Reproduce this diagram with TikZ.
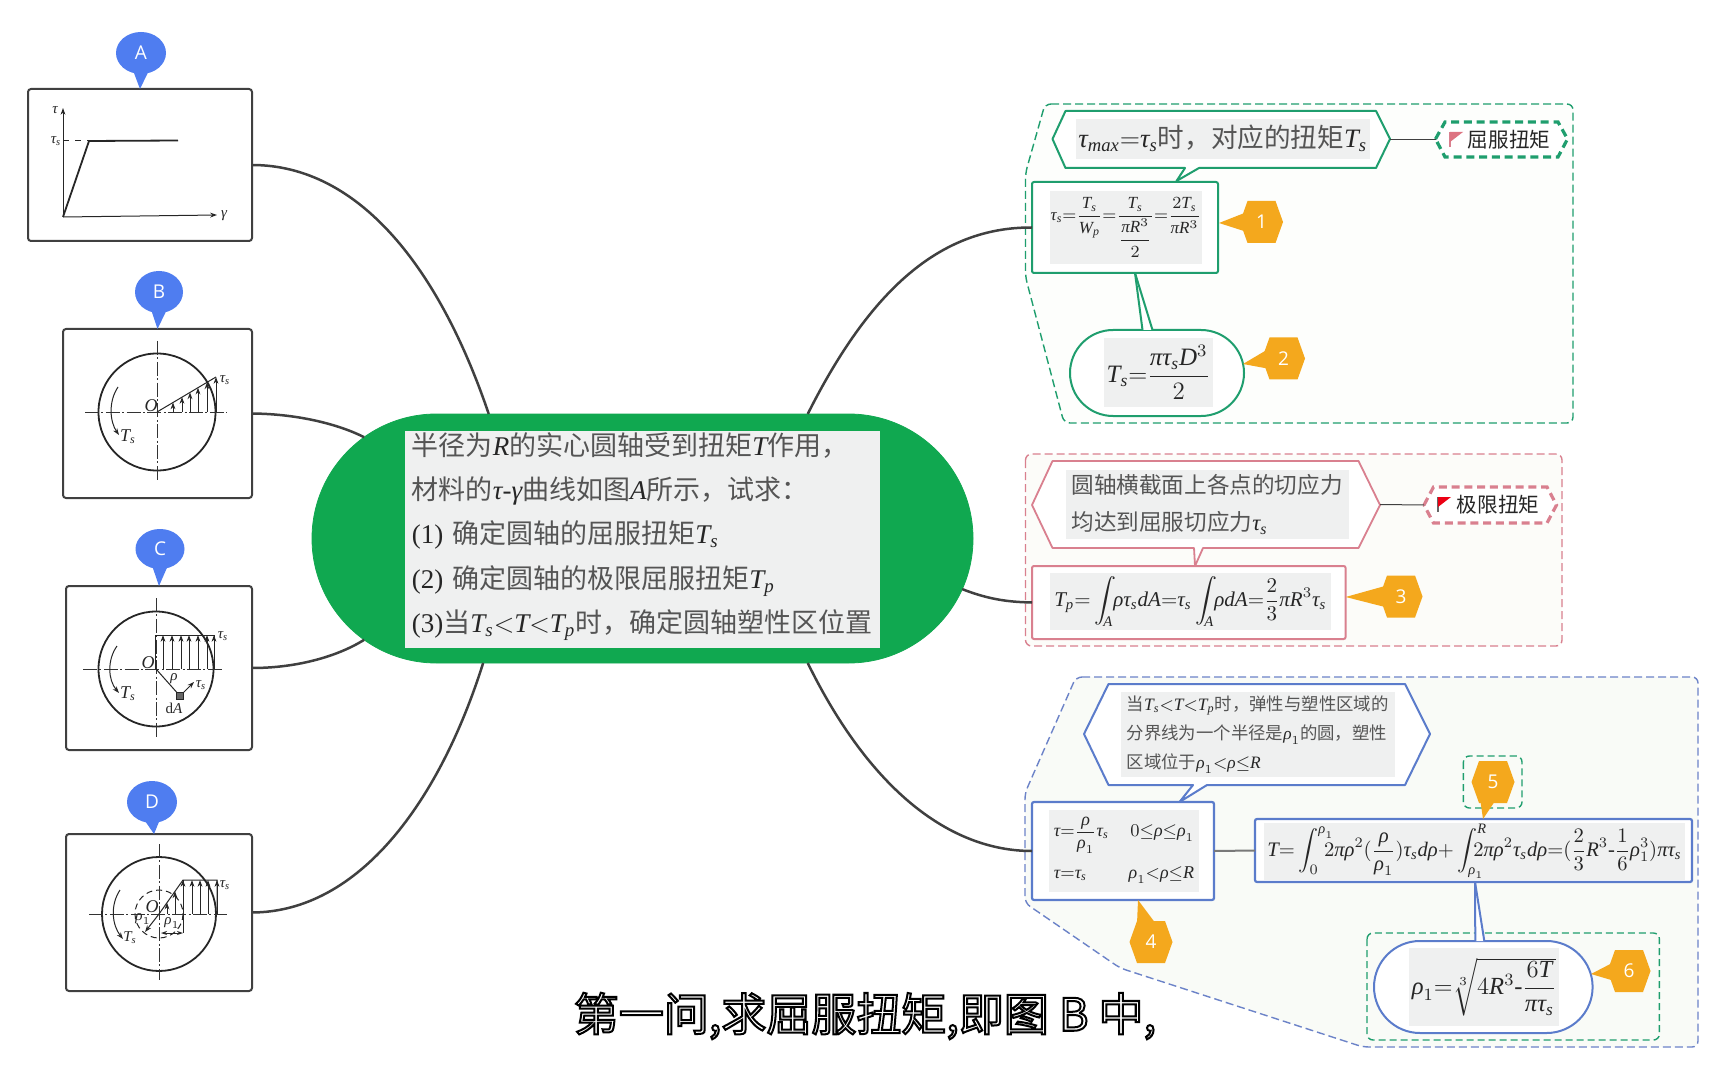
\documentclass[tikz,border=0pt]{standalone}
\usepackage{fix-cm}
\usepackage{amsmath}
\usepackage{fontspec}
\setmainfont{Liberation Serif}
\newfontfamily\cjk{Noto Sans CJK SC}
\newfontfamily\opensans{Open Sans}
\usetikzlibrary{shapes.geometric,shapes.misc,arrows.meta,calc}
\definecolor{grn}{HTML}{1F9E6E}
\definecolor{redl}{HTML}{D9808F}
\definecolor{blu}{HTML}{5B7CCB}
\definecolor{bluedash}{HTML}{6C83C8}
\definecolor{pillg}{HTML}{10A850}
\definecolor{greybg}{HTML}{EFF0F0}
\definecolor{orng}{HTML}{F4A81D}
\definecolor{callb}{HTML}{4F7DF0}
\definecolor{conc}{HTML}{404040}
\definecolor{zhc}{HTML}{555555}
\definecolor{ink}{HTML}{262626}
\definecolor{bgg}{HTML}{FDFEFC}
\definecolor{bgr}{HTML}{FCFCF9}
\definecolor{bgb}{HTML}{F9FBF7}
\newcommand\zh[1]{{\cjk\color{zhc}#1}}
\newcommand\mi[1]{\text{\itshape #1}}
\newcommand\myrho{\mi{ρ}}
\newcommand\mytau{\mi{τ}}
\newcommand\mypi{\mi{π}}
\newcommand\Ts{\mi{T}_{\mi{s}}}
\newcommand\Tp{\mi{T}_{\mi{p}}}
\newcommand\taus{\mytau_{\mi{s}}}
\newcommand\rhoa{\myrho_{1}}
\newcommand\eqq{{=}}
\newcommand\lts{{<}}
\newcommand\bx[6]{%
  \pgfmathsetmacro\bxcx{(#3+#5)/2}\pgfmathsetmacro\bxcy{(#4+#6)/2}%
  \pgfmathsetmacro\bxw{(#5-#3)*0.5}\pgfmathsetmacro\bxh{(#6-#4)*0.5}%
  \node[inner sep=0pt,outer sep=0pt,minimum width=\bxw pt,minimum height=\bxh pt,#1] (#2) at (\bxcx,\bxcy) }
\newcommand\badge[4]{%
  \fill[orng] (#2-21.5,#3)--(#2-14,#3-21)--(#2+14,#3-21)--(#2+21.5,#3)--(#2+14,#3+21)--(#2-14,#3+21)--cycle;
  \node[text=white,font=\opensans\fontsize{9.5}{11}\selectfont,inner sep=0pt] (#1) at (#2,#3) {#4};}
\tikzset{
  imgbox/.style={draw=conc,line width=1pt,rounded corners=1.5pt,fill=white},
  conn/.style={draw=conc,line width=1.25pt},
  greyb/.style={fill=greybg},
  gbox/.style={draw=grn,line width=1pt,fill=white,rounded corners=1pt},
  rbox/.style={draw=redl,line width=1pt,fill=white,rounded corners=1pt},
  bbox/.style={draw=blu,line width=1.1pt,fill=white,rounded corners=1pt},
  hg/.style={draw=grn,line width=1pt,fill=white,line join=round},
  hr/.style={draw=redl,line width=.9pt,fill=white,line join=round},
  hb/.style={draw=blu,line width=1pt,fill=white,line join=round},
  ghost/.style={},
  grpg/.style={draw=grn,line width=.7pt,dash pattern=on 4pt off 2pt,rounded corners=3pt,fill=bgg},
  grpr/.style={draw=redl,line width=.7pt,dash pattern=on 4pt off 2pt,rounded corners=3pt,fill=bgr},
  grpb/.style={draw=bluedash,line width=.7pt,dash pattern=on 4pt off 2pt,rounded corners=3pt,fill=bgb},
  grpn/.style={draw=grn,line width=.7pt,dash pattern=on 3.5pt off 2pt,rounded corners=3pt},
  lab/.style={inner sep=0pt,font=\fontsize{10.3}{12}\selectfont\cjk,text=ink},
  flagline/.style={draw=conc,line width=.5pt},
  fig/.style={draw=black!85,line width=.5pt},
  figc/.style={draw=black!85,line width=.9pt},
  axdd/.style={draw=black!80,line width=.5pt,dash pattern=on 7pt off 1.2pt on 1pt off 1.2pt},
  fa/.style={-{Stealth[length=3.4pt,width=2.4pt]}},
  fl/.style={inner sep=0pt,font=\fontsize{7.5}{9}\selectfont,text=black!85},
  cal/.style={ellipse,fill=callb,inner sep=0pt,text=white,font=\opensans\fontsize{9.5}{11}\selectfont}
}
\begin{document}
\begin{tikzpicture}[x=0.5pt,y=-0.5pt]
\fill[white] (0,0) rectangle (1728,1080);
\useasboundingbox (0,0) rectangle (1728,1080);
% group backgrounds
\draw[grpg] (1045,104)--(1573,104)--(1573,423)--(1064,423)--(1025.5,277)--(1025.5,173)--cycle;
\draw[grpr] (1025.5,454) rectangle (1562,646);
\draw[grpb] (1076,677)--(1698,677)--(1698,1047)--(1363,1047)--(1120,968)--(1025,903)--(1025,793)--cycle;
\draw[grpn] (1463.4,756) rectangle (1522,808);
\draw[grpn] (1367,933) rectangle (1659.4,1040);

% image boxes
\bx{imgbox}{boxA}{28}{89}{252}{241}{};
\bx{imgbox}{boxB}{63}{329}{252}{498}{};
\bx{imgbox}{boxC}{66}{586}{252}{750}{};
\bx{imgbox}{boxD}{66}{834}{252}{991}{};
\node[cal,minimum width=25pt,minimum height=21pt] (cA) at (141,53) {A};
\node[cal,minimum width=24pt,minimum height=21pt] (cB) at (159,292) {B};
\node[cal,minimum width=24.5pt,minimum height=20pt] (cC) at (160,549) {C};
\node[cal,minimum width=25pt,minimum height=21pt] (cD) at (152,802) {D};
\fill[callb] ([xshift=-4pt,yshift=2pt]cA.south) -- (boxA.north) -- ([xshift=4pt,yshift=2pt]cA.south) -- cycle;
\fill[callb] ([xshift=-4pt,yshift=2pt]cB.south) -- (boxB.north) -- ([xshift=4pt,yshift=2pt]cB.south) -- cycle;
\fill[callb] ([xshift=-4pt,yshift=2pt]cC.south) -- (boxC.north) -- ([xshift=4pt,yshift=2pt]cC.south) -- cycle;
\fill[callb] ([xshift=-4pt,yshift=2pt]cD.south) -- ([xshift=-2.5pt]boxD.north) -- ([xshift=4pt,yshift=2pt]cD.south) -- cycle;

% figure A
\draw[fig,fa] (63,217)--(63,108);
\draw[fig,fa] (63,217)--(217,215);
\draw[fig,dashed] (63,141)--(89,141);
\draw[figc] (63,217)--(89,141)--(178,140.5);
\node[fl] (fa1) at (55,110) {$\mytau$};
\node[fl] (fa2) at (56,141) {$\taus$};
\node[fl] (fa3) at (224,216) {$\mi{γ}$};

% figure B
\draw[figc] (157,412) circle (58.5);
\draw[axdd] (157,341)--(157,482);
\draw[axdd] (85,412)--(227,412);
\draw[fig] (157,412)--(216,377);
\foreach \x/\y in {173/402.5,182/397,190/392.4,198/387.7,207/382.4,216/377}{\draw[fig,fa] (\x,412)--(\x,\y);}
\draw[fig,fa] (118,387) .. controls (108,402) and (110,422) .. (119,435);
\node[fl,font=\fontsize{9}{10}\selectfont] (fb1) at (151,406) {$\mi{O}$};
\node[fl] (fb2) at (225,380) {$\taus$};
\node[fl,font=\fontsize{9}{10}\selectfont] (fb3) at (128,437) {$\Ts$};

% figure C
\draw[figc] (156,669) circle (57.5);
\draw[axdd] (156,598)--(156,737);
\draw[axdd] (83,669)--(223,669);
\draw[fig] (155,669)--(155,635)--(214,635)--(214,669);
\foreach \x in {163,172,181,189,198,207,214}{\draw[fig,fa] (\x,669)--(\x,635);}
\draw[fig] (156,669)--(180,696);
\draw[fig,fa] (180,696)--(194,682);
\draw[fig,fill=black!60] (176.5,692.5) rectangle (183.5,699.5);
\draw[fig,fa] (117,646) .. controls (107,660) and (108,680) .. (119,693);
\node[fl] (fc1) at (223,636) {$\taus$};
\node[fl,font=\fontsize{9}{10}\selectfont] (fc2) at (148,663) {$\mi{O}$};
\node[fl,font=\fontsize{9}{10}\selectfont] (fc3) at (128,694) {$\Ts$};
\node[fl] (fc4) at (174,679) {$\myrho$};
\node[fl] (fc5) at (174,708) {d$\mi{A}$};
\node[fl] (fc6) at (201,685) {$\taus$};

% figure D
\draw[figc] (159,914) circle (57);
\draw[fig,densely dashed] (159,914) circle (24);
\draw[axdd] (159,844)--(159,980);
\draw[axdd] (89,914)--(227,914);
\draw[fig] (159,914)--(183,880)--(217,880)--(217,914);
\draw[fig] (183,880)--(183,933);
\draw[fig,fa] (159,914)--(145,932);
\draw[fig,{Stealth[length=3pt,width=2pt]}-{Stealth[length=3pt,width=2pt]}] (161,933)--(183,933);
\foreach \x/\y in {167/902.7,175/891.3,183/880,192/880,200/880,208/880,217/880}{\draw[fig,fa] (\x,914)--(\x,\y);}
\draw[fig,fa] (120,890) .. controls (110,905) and (112,925) .. (123,939);
\node[fl] (fd1) at (225,885) {$\taus$};
\node[fl,font=\fontsize{9}{10}\selectfont] (fd2) at (152,907) {$\mi{O}$};
\node[fl] (fd3) at (130,938) {$\Ts$};
\node[fl] (fd4) at (172,923) {$\rhoa$};
\node[fl] (fd5) at (143,919) {$\rhoa$};

% centre pill
\node[rounded rectangle,fill=pillg,draw=pillg,inner sep=0pt,outer sep=0pt,minimum width=330.5pt,minimum height=124.5pt] (center) at (642.5,538.5) {};
\bx{greyb}{prob}{405}{431}{880}{648}{};
\node[anchor=west,align=left,inner sep=0pt,text width=231pt,font=\fontsize{13.5}{22.1}\selectfont,text=ink] (probt) at (411.5,536.5) {%
\zh{半径为}$\mi{R}$\zh{的实心圆轴受到扭矩}$\mi{T}$\zh{作用，}\\
\zh{材料的}$\mytau$-$\mi{γ}$\zh{曲线如图}$\mi{A}$\zh{所示，试求：}\\
(1) \zh{确定圆轴的屈服扭矩}$\Ts$\\
(2) \zh{确定圆轴的极限屈服扭矩}$\Tp$\\
(3)\zh{当}$\Ts\lts\mi{T}\lts\Tp$\zh{时，确定圆轴塑性区位置}};

% yield group
\draw[hg] (1052.5,139)--(1065.5,111)--(1376,111)--(1390,139)--(1376,168)--(1199,168)--(1176.5,181)--(1185,168)--(1065.5,168)--cycle;
\bx{ghost}{hex1}{1052.5}{111}{1390}{168}{};
\bx{greyb,font=\fontsize{13.3}{16}\selectfont,text=ink}{hex1t}{1075.5}{119}{1370}{159}{\raisebox{3pt}{$\mytau_{\mi{max}}\eqq\taus$\zh{时，对应的扭矩}$\Ts$}};
\bx{gbox}{box1}{1032}{182}{1218}{273}{};
\bx{greyb,font=\fontsize{8.5}{10}\selectfont,text=ink}{box1t}{1049.6}{191}{1202}{264}{$\taus\eqq\dfrac{\Ts}{\mi{W}_{\mi{p}}}\eqq\dfrac{\Ts}{\dfrac{\mypi \mi{R}^3}{2}}\eqq\dfrac{2\Ts}{\mypi \mi{R}^3}$};
\node[rounded rectangle,draw=grn,line width=1pt,fill=white,inner sep=0pt,outer sep=0pt,minimum width=87pt,minimum height=43pt] (pill2) at (1157,373) {};
\bx{greyb,font=\fontsize{12.5}{15}\selectfont,text=ink}{pill2t}{1103.6}{338}{1213}{407}{$\Ts\eqq\dfrac{\mypi\taus \mi{D}^3}{2}$};
\path[fill=white] ([xshift=5pt]box1.south) -- ([xshift=-7.25pt]pill2.north) -- ([xshift=-2.25pt]pill2.north) -- cycle;
\draw[grn,line width=1pt] ([xshift=5pt]box1.south) -- ([xshift=-7.25pt]pill2.north);
\draw[grn,line width=1pt] ([xshift=5pt]box1.south) -- ([xshift=-2.25pt]pill2.north);
\fill[orng] (1219,223)--(1247,212)--(1247,232)--cycle;
\badge{b1}{1261.5}{222}{1}
\fill[orng] (1243,364)--(1270,348)--(1270,369)--cycle;
\badge{b2}{1283.5}{358.5}{2}
% yield flag
\draw[draw=grn,line width=1.6pt,dash pattern=on 4pt off 2.4pt,fill=white] (1435.5,139)--(1445,122)--(1558,122)--(1567.5,139)--(1558,157)--(1445,157)--cycle;
\bx{ghost}{lab1}{1435.5}{122}{1567.5}{157}{};
\draw[flagline] (hex1.east)--(lab1.west);
\node[lab] (lab1t) at (1509,139.5) {屈服扭矩};
\draw[redl,line width=.8pt] (1450,132)--(1450,147);
\fill[redl!90!red] (1450,132)--(1463,132)--(1450,142)--cycle;

% limit group
\draw[hr] (1032,505)--(1052.5,461)--(1358.5,461)--(1380,505)--(1358.5,548)--(1203,548)--(1195,566)--(1194,548)--(1052.5,548)--cycle;
\bx{ghost}{hex2}{1032}{461}{1380}{548}{};
\bx{greyb,align=left,text width=135.5pt,inner xsep=3pt,font=\fontsize{11.3}{18.5}\selectfont,text=ink}{hex2t}{1065.5}{470}{1348.5}{539}{\zh{圆轴横截面上各点的切应力}\\\zh{均达到屈服切应力}$\taus$};
\bx{rbox}{box3}{1032}{566}{1345.6}{639}{};
\bx{greyb,font=\fontsize{10.5}{12}\selectfont,text=ink}{box3t}{1049.6}{573}{1331}{630}{$\Tp\eqq\displaystyle\int_{\!\mi{A}}\!\myrho\taus \mi{d}\mi{A}\eqq\taus\int_{\!\mi{A}}\!\myrho \mi{d}\mi{A}\eqq\dfrac{2}{3}\mypi \mi{R}^3\taus$};
\fill[orng] (1345.6,597)--(1385,586)--(1385,607)--cycle;
\badge{b3}{1401}{596.5}{3}
\draw[draw=redl,line width=1.6pt,dash pattern=on 4pt off 2.4pt,fill=white] (1424,505)--(1433.5,487)--(1547,487)--(1556.5,505)--(1547,523)--(1433.5,523)--cycle;
\bx{ghost}{lab2}{1424}{487}{1556.5}{523}{};
\draw[flagline] (hex2.east)--(lab2.west);
\node[lab] (lab2t) at (1498,505) {极限扭矩};
\draw[black!60,line width=.8pt] (1438,497)--(1438,512);
\fill[red!70!purple] (1438,497)--(1451,497)--(1438,507)--cycle;

% plastic group
\draw[hb] (1084,734)--(1108.5,684)--(1405,684)--(1430,734)--(1405,785)--(1207,785)--(1179.5,802)--(1193,785)--(1108.5,785)--cycle;
\bx{ghost}{hex3}{1084}{684}{1430}{785}{};
\bx{greyb,align=left,text width=131pt,inner xsep=3pt,font=\fontsize{8.7}{14.5}\selectfont,text=ink}{hex3t}{1123}{692}{1392.4}{777}{\zh{当}$\Ts\lts\mi{T}\lts\Tp$\zh{时，弹性与塑性区域的}\\\zh{分界线为一个半径是}$\rhoa$\zh{的圆，塑性}\\\zh{区域位于}$\rhoa\lts\myrho{\le}\mi{R}$};
\bx{bbox}{box4}{1032}{802}{1214}{900}{};
\bx{greyb,font=\fontsize{9}{11}\selectfont,text=ink}{box4t}{1049}{810}{1199}{892}{%
\begin{tabular}{@{}l@{\hspace{10pt}}r@{}}
$\mytau\eqq\dfrac{\myrho}{\rhoa}\taus$ & $0{\le}\myrho{\le}\rhoa$\\[10pt]
$\mytau\eqq\taus$ & $\rhoa\lts\myrho{\le}\mi{R}$
\end{tabular}};
\bx{bbox}{boxT}{1255}{819}{1692}{882}{};
\bx{greyb,font=\fontsize{10.3}{12}\selectfont,text=ink}{boxTt}{1264}{823}{1685}{880}{$\mi{T}\eqq\displaystyle\int_{0}^{\rhoa}\!\!\!\!2\mypi\myrho^2(\frac{\myrho}{\rhoa})\taus \mi{d}\myrho{+}\int_{\rhoa}^{\mi{R}}\!\!\!\!\!2\mypi\myrho^2\taus \mi{d}\myrho\eqq(\frac{2}{3}\mi{R}^3{\text{-}}\frac{1}{6}\rhoa^3)\mypi\taus$};
\draw[draw=conc!70,line width=1pt] (box4.east)--(boxT.west);
\node[rounded rectangle,draw=blu,line width=1pt,fill=white,inner sep=0pt,outer sep=0pt,minimum width=109.3pt,minimum height=46pt] (pill6) at (1483.3,987) {};
\bx{greyb,font=\fontsize{12.3}{15}\selectfont,text=ink}{pill6t}{1409}{948}{1559}{1026}{$\rhoa\eqq\sqrt[3]{4\mi{R}^3{\text{-}}\dfrac{6\mi{T}}{\mypi\taus}}$};
\path[fill=white] ([xshift=.75pt]boxT.south) -- ([xshift=-4pt]pill6.north) -- ([xshift=.5pt]pill6.north) -- cycle;
\draw[blu,line width=1pt] ([xshift=.75pt]boxT.south) -- ([xshift=-4pt]pill6.north);
\draw[blu,line width=1pt] ([xshift=.75pt]boxT.south) -- ([xshift=.5pt]pill6.north);
\fill[orng] (1138,900)--(1137,924)--(1156,924)--cycle;
\badge{b4}{1151}{942}{4}
\fill[orng] (1483,819)--(1480,798)--(1497,798)--cycle;
\badge{b5}{1493}{782}{5}
\fill[orng] (1591,974)--(1618,960)--(1618,982)--cycle;
\badge{b6}{1629}{971}{6}

% connectors
\draw[conn] (boxA.east) .. controls (360,165) and (440,270) .. (center.141.7);
\draw[conn] (boxB.east) .. controls (300,414) and (340,425) .. (center.160.4);
\draw[conn] (boxC.east) .. controls (300,668) and (340,655) .. (center.200.7);
\draw[conn] (boxD.east) .. controls (360,912) and (440,800) .. (center.218.2);
\draw[conn] (center.37.7) .. controls (870,290) and (940,227) .. (box1.west);
\draw[conn] (center.-9.5) .. controls (990,600) and (1010,602) .. (box3.west);
\draw[conn] (center.-37.7) .. controls (870,790) and (950,851) .. (box4.west);

% subtitle
\node[inner sep=0pt,font=\fontsize{22.5}{26}\selectfont\cjk] (sub) at (865,1016) {\special{pdf:code 2 Tr 1 w 1 1 1 rg 0 0 0 RG}第一问,求屈服扭矩,即图 B 中,\special{pdf:code 0 Tr 0 g 0 G}};
\end{tikzpicture}
\end{document}
